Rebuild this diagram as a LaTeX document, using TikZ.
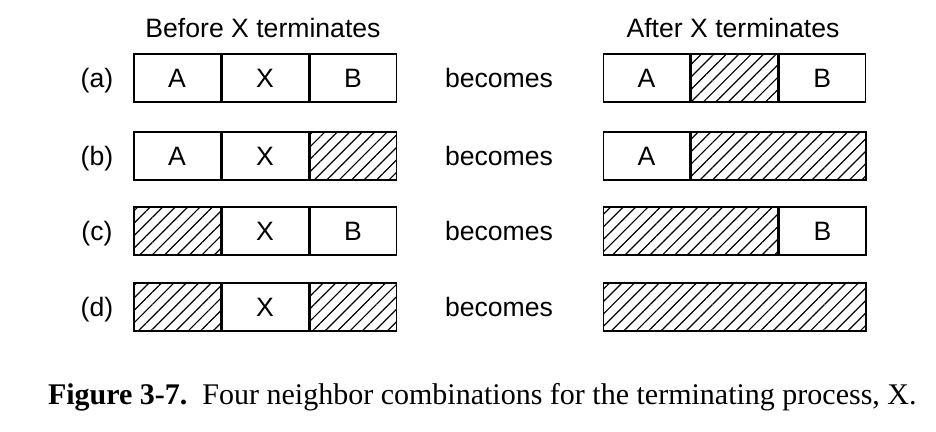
\documentclass[tikz,border=0pt]{standalone}
\usepackage{fontspec}
\setmainfont{Liberation Serif}
\setsansfont{Liberation Sans}
\usetikzlibrary{positioning,patterns.meta}
\tikzset{
    cell/.style={draw,line width=0.75pt,minimum width=43.25pt,minimum height=24pt,inner sep=0pt,font=\sffamily\fontsize{13.3}{15}\selectfont},
    hole/.style={cell,pattern={Lines[angle=45,distance=4.4pt,line width=0.6pt]}},
    rowlabel/.style={font=\sffamily\fontsize{13.3}{15}\selectfont,text height=9.5pt,text depth=0pt},
    title/.style={font=\sffamily\fontsize{13.3}{15}\selectfont}
}
\begin{document}
\begin{tikzpicture}[x=0.5pt,y=-0.5pt]
    \useasboundingbox (0,0) rectangle (936,432);

    % column titles
    \node[title] (tl) at (263,28) {Before X terminates};
    \node[title] (tr) at (733,28) {After X terminates};

    % (a)
    \node[rowlabel] (la) at (97,78) {(a)};
    \node[cell] (a1) at (177,78) {A};
    \node[cell,right=0pt of a1] (a2) {X};
    \node[cell,right=0pt of a2] (a3) {B};
    \node[rowlabel] (ba) at (499,78) {becomes};
    \node[cell] (ra1) at (646.5,78) {A};
    \node[hole,right=0pt of ra1] (ra2) {};
    \node[cell,right=0pt of ra2] (ra3) {B};

    % (b)
    \node[rowlabel] (lb) at (97,156) {(b)};
    \node[cell] (b1) at (177,156) {A};
    \node[cell,right=0pt of b1] (b2) {X};
    \node[hole,right=0pt of b2] (b3) {};
    \node[rowlabel] (bb) at (499,156) {becomes};
    \node[cell] (rb1) at (646.5,156) {A};
    \node[hole,minimum width=87.25pt,right=0pt of rb1] (rb2) {};

    % (c)
    \node[rowlabel] (lc) at (97,231) {(c)};
    \node[hole] (c1) at (177,231) {};
    \node[cell,right=0pt of c1] (c2) {X};
    \node[cell,right=0pt of c2] (c3) {B};
    \node[rowlabel] (bc) at (499,231) {becomes};
    \node[hole,minimum width=87.25pt] (rc1) at (690.5,231) {};
    \node[cell,right=0pt of rc1] (rc2) {B};

    % (d)
    \node[rowlabel] (ld) at (97,307) {(d)};
    \node[hole] (d1) at (177,307) {};
    \node[cell,right=0pt of d1] (d2) {X};
    \node[hole,right=0pt of d2] (d3) {};
    \node[rowlabel] (bd) at (499,307) {becomes};
    \node[hole,minimum width=131.25pt] (rd1) at (734.5,307) {};

    % caption
    \node[anchor=west,font=\fontsize{15}{18}\selectfont] (cap) at (41,397)
        {\textbf{Figure 3-7.}\enspace Four neighbor combinations for the terminating process, X.};
\end{tikzpicture}
\end{document}
